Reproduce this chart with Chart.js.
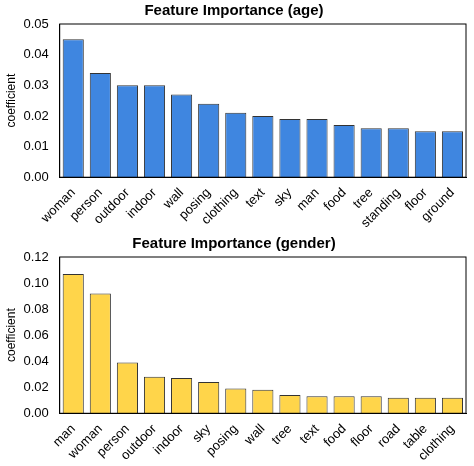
<!DOCTYPE html>
<html>
<head>
<meta charset="utf-8">
<script src="https://cdn.jsdelivr.net/npm/chart.js@4"></script>
<style>
  body { margin: 0; background: #fff; }
  .box { position: relative; width: 474px; height: 233px; }
</style>
</head>
<body>
<div class="box"><canvas id="ageChart"></canvas></div>
<div class="box"><canvas id="genderChart"></canvas></div>
<script>
// Data
const ageLabels = ['woman', 'person', 'outdoor', 'indoor', 'wall', 'posing', 'clothing', 'text', 'sky', 'man', 'food', 'tree', 'standing', 'floor', 'ground'];
const ageValues = [0.045, 0.034, 0.030, 0.030, 0.027, 0.024, 0.021, 0.020, 0.019, 0.019, 0.017, 0.016, 0.016, 0.015, 0.015];
const ageTicks = [0, 0.01, 0.02, 0.03, 0.04, 0.05];

const genderLabels = ['man', 'woman', 'person', 'outdoor', 'indoor', 'sky', 'posing', 'wall', 'tree', 'text', 'food', 'floor', 'road', 'table', 'clothing'];
const genderValues = [0.107, 0.092, 0.039, 0.028, 0.027, 0.024, 0.019, 0.018, 0.014, 0.013, 0.013, 0.013, 0.012, 0.012, 0.012];
const genderTicks = [0, 0.02, 0.04, 0.06, 0.08, 0.10, 0.12];

Chart.defaults.font.family = 'Arial, "Liberation Sans", sans-serif';
Chart.defaults.color = '#000';

// box around the plot area
const frame = {
    id: 'frame',
    afterDraw(chart) {
        const a = chart.chartArea, c = chart.ctx;
        c.save();
        c.strokeStyle = '#000';
        c.lineWidth = 1;
        c.strokeRect(a.left, a.top, a.right - a.left, a.bottom - a.top);
        c.restore();
    }
};

function makeChart(id, title, labels, values, ticks, color) {
    let ctx = document.getElementById(id).getContext('2d');
    return new Chart(ctx, {
        type: 'bar',
        data: {
            labels: labels,
            datasets: [{
                data: values,
                backgroundColor: color,
                borderColor: '#333',
                borderWidth: 1,
                categoryPercentage: 1.0,
                barPercentage: 0.78
            }]
        },
        plugins: [frame],
        options: {
            responsive: true,
            maintainAspectRatio: false,
            animation: false,
            layout: { padding: { left: 2, right: 8, top: 0, bottom: 2 } },
            plugins: {
                legend: { display: false },
                tooltip: { enabled: false },
                title: {
                    display: true,
                    text: title,
                    font: { size: 15, weight: 'bold' },
                    padding: { top: 2, bottom: 4 }
                }
            },
            scales: {
                x: {
                    grid: { display: false },
                    border: { color: '#000' },
                    ticks: { maxRotation: 45, minRotation: 45, font: { size: 13 }, padding: 0 }
                },
                y: {
                    min: ticks[0],
                    max: ticks[ticks.length - 1],
                    afterBuildTicks: axis => { axis.ticks = ticks.map(v => ({ value: v })); },
                    grid: { display: false },
                    border: { color: '#000' },
                    title: { display: true, text: 'coefficient', font: { size: 12 }, padding: 2 },
                    ticks: {
                        font: { size: 13 },
                        callback: v => v.toFixed(2)
                    }
                }
            }
        }
    });
}

document.addEventListener('DOMContentLoaded', () => {
    makeChart('ageChart', 'Feature Importance (age)', ageLabels, ageValues, ageTicks, '#3f86e0');
    makeChart('genderChart', 'Feature Importance (gender)', genderLabels, genderValues, genderTicks, '#ffd54a');
});
</script>
</body>
</html>
